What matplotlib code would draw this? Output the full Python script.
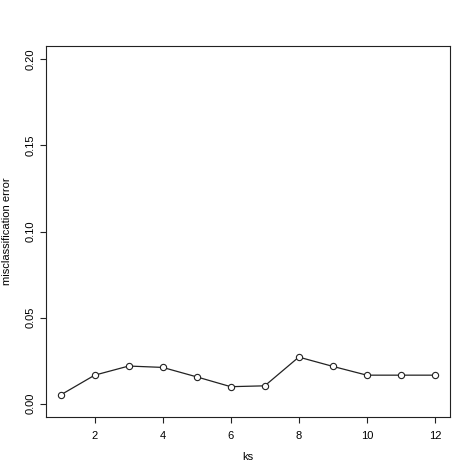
import matplotlib
matplotlib.use("Agg")
import matplotlib.pyplot as plt

ks = [1, 2, 3, 4, 5, 6, 7, 8, 9, 10, 11, 12]
errors = [0.0050, 0.0165, 0.0218, 0.0210, 0.0155, 0.0098, 0.0103, 0.0270, 0.0216, 0.0165, 0.0165, 0.0165]
xticks = [2, 4, 6, 8, 10, 12]
yticks = [0.00, 0.05, 0.10, 0.15, 0.20]
ytick_labels = ["0.00", "0.05", "0.10", "0.15", "0.20"]

plt.rcParams['font.family'] = ['Liberation Sans', 'DejaVu Sans']

fig = plt.figure(figsize=(4.74, 4.74), dpi=100)
ax = fig.add_axes([0.0964, 0.1196, 0.949 - 0.0964, 0.9036 - 0.1196])
ax.plot(ks, errors, color='#222222', lw=0.9, marker='o', markersize=4.5,
        markerfacecolor='white', markeredgecolor='#222222', markeredgewidth=0.8)
ax.set_xlim(0.56, 12.44)
ax.set_ylim(-0.008, 0.208)
ax.set_xticks(xticks)
ax.set_xticklabels([str(t) for t in xticks])
ax.set_yticks(yticks)
ax.set_yticklabels(ytick_labels, rotation=90, va='center')
ax.tick_params(axis='both', direction='out', length=4, width=0.8, labelsize=8, color='#222222')
ax.tick_params(axis='x', pad=6)
ax.tick_params(axis='y', pad=3.5)
for s in ax.spines.values():
    s.set_linewidth(0.8)
    s.set_color('#222222')
ax.set_xlabel('ks', fontsize=8)
ax.set_ylabel('misclassification error', fontsize=8)
ax.xaxis.set_label_coords(0.5, -0.106)
ax.yaxis.set_label_coords(-0.0957, 0.5)
ax.xaxis.label.set_va('center')
ax.yaxis.label.set_va('center')
fig.savefig('out.png', dpi=100)
